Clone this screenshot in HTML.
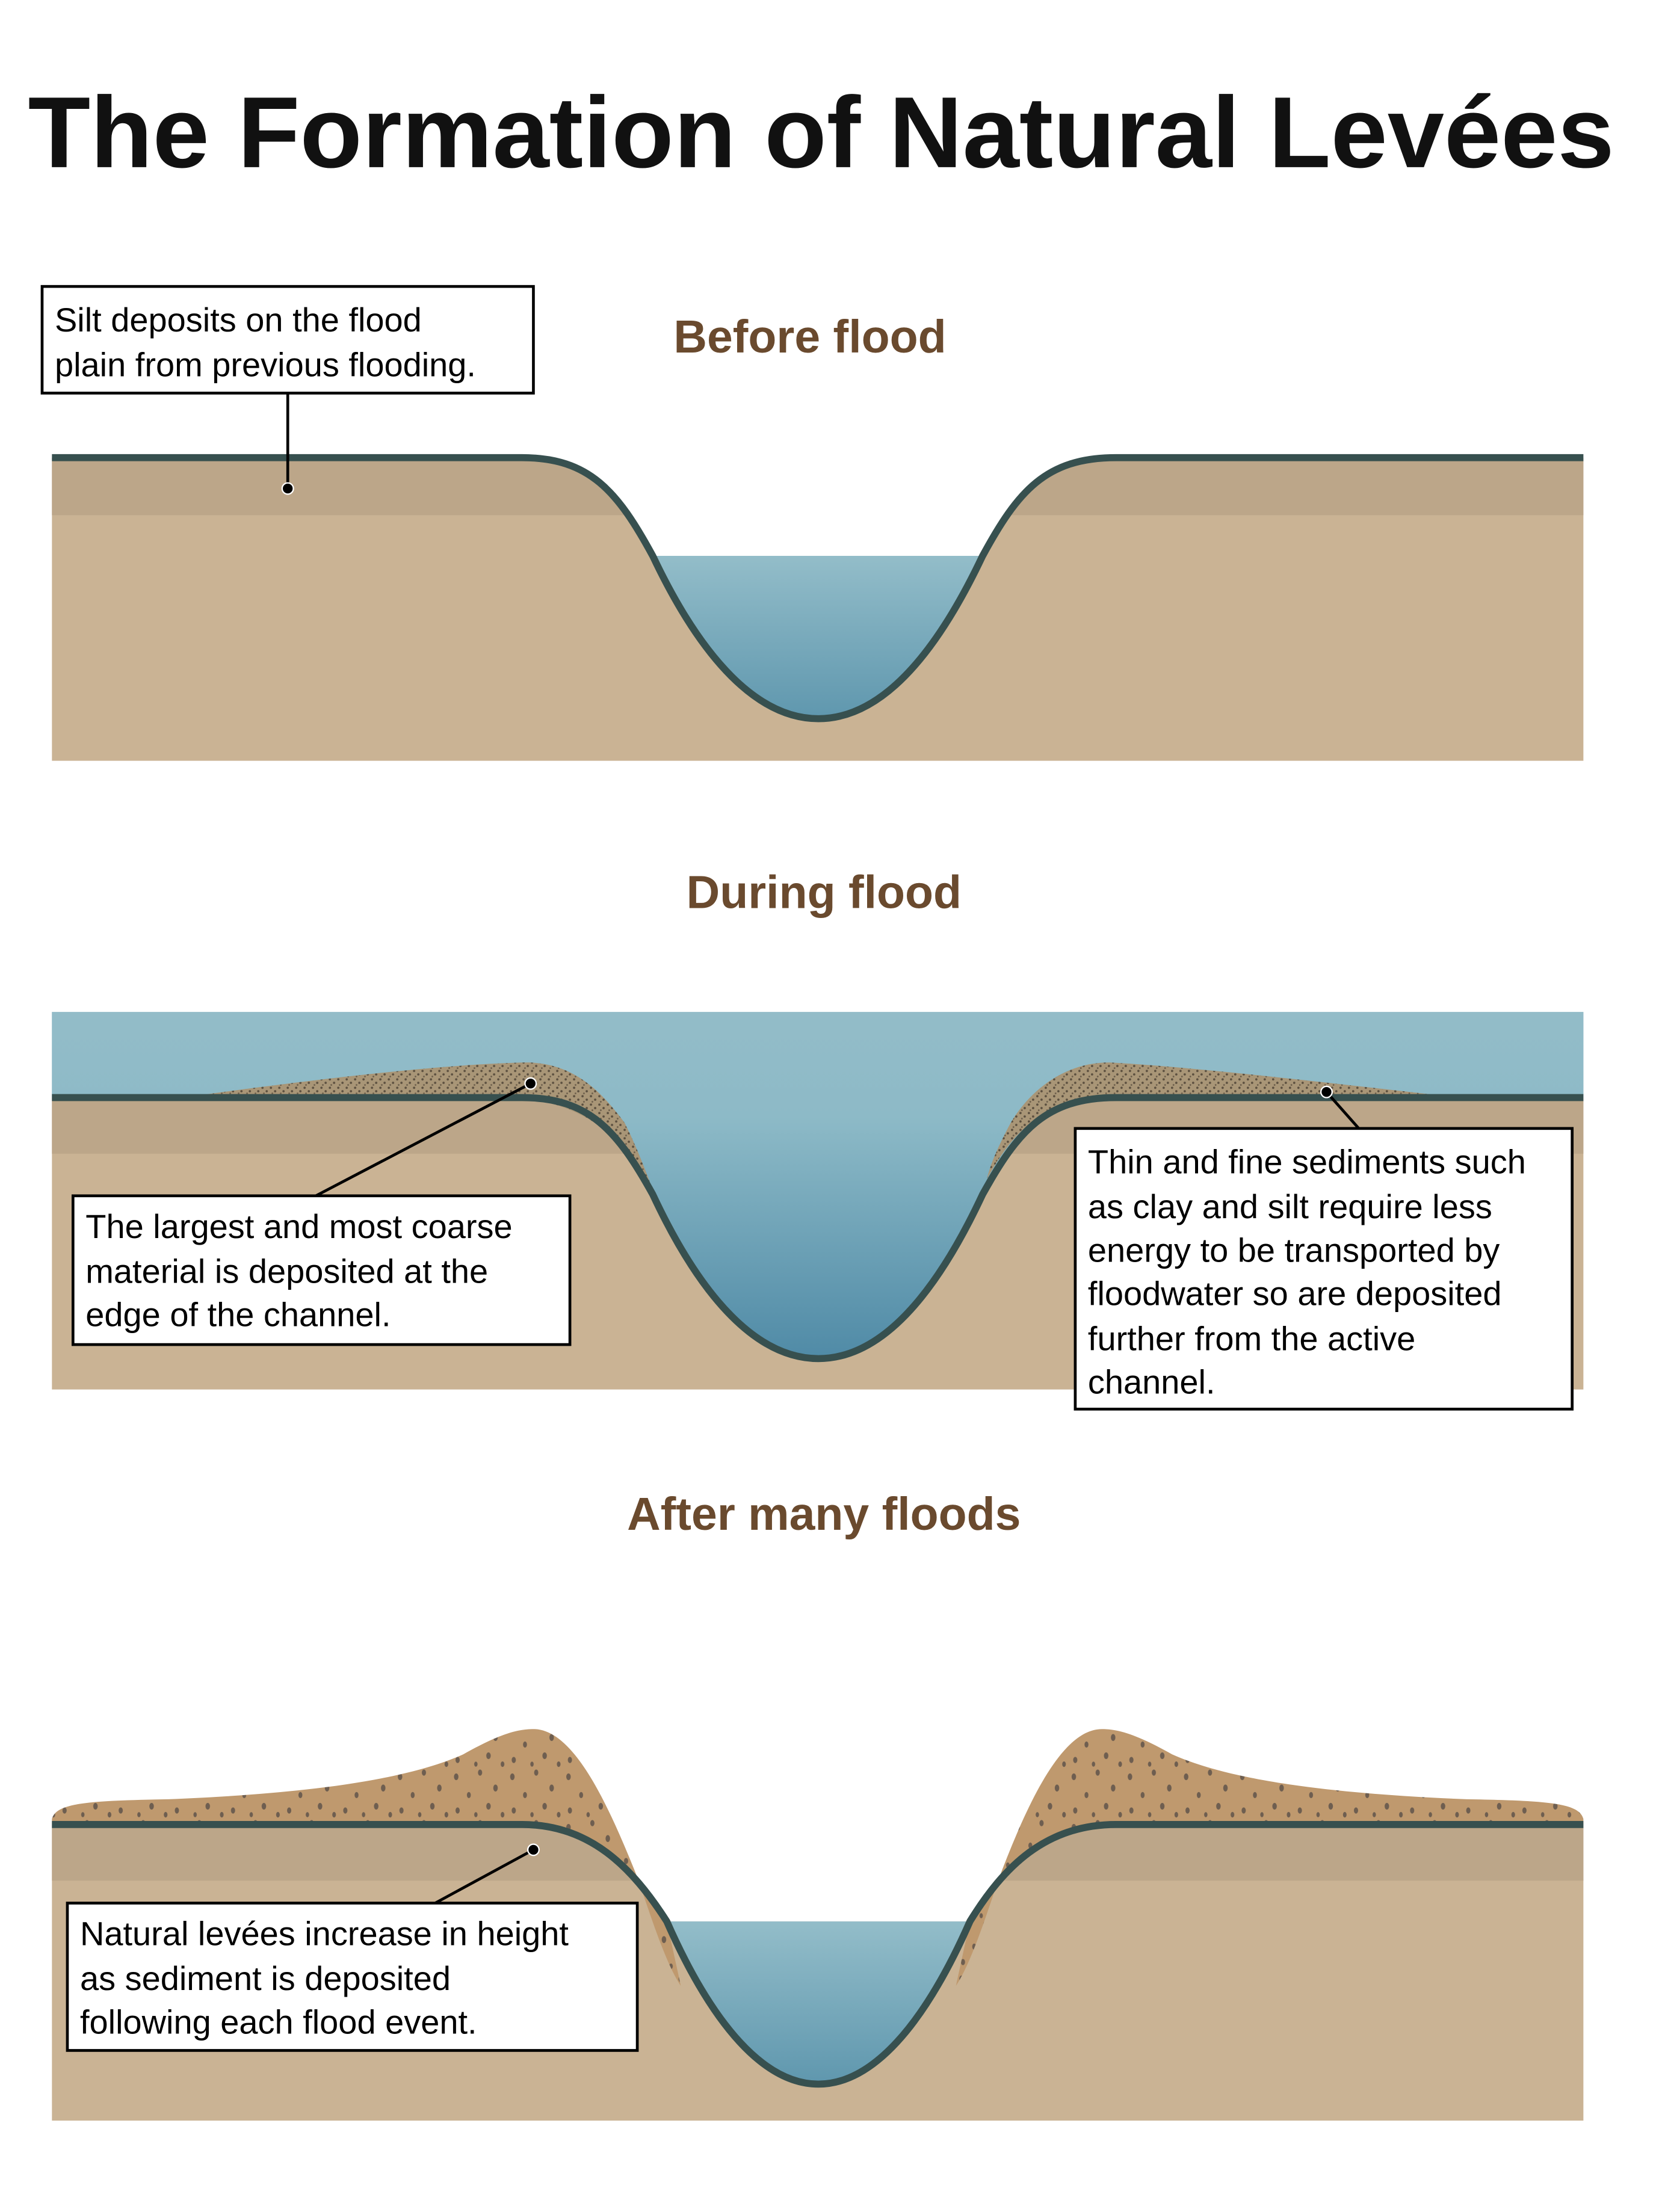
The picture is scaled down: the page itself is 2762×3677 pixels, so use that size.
<!DOCTYPE html>
<html><head><meta charset="utf-8"><style>html,body{margin:0;padding:0;background:#fff}svg{display:block}</style></head>
<body>
<svg width="2762" height="3677" viewBox="0 0 1184 1576" xmlns="http://www.w3.org/2000/svg" font-family="Liberation Sans, sans-serif">
<defs>
<linearGradient id="w1" x1="0" y1="0" x2="0" y2="1"><stop offset="0" stop-color="#93bdc9"/><stop offset="1" stop-color="#5f97ae"/></linearGradient>
<linearGradient id="w2" x1="0" y1="721" x2="0" y2="970" gradientUnits="userSpaceOnUse"><stop offset="0" stop-color="#93bcc8"/><stop offset="0.3" stop-color="#8dbac7"/><stop offset="1" stop-color="#4f8aa6"/></linearGradient>
<pattern id="fine" width="6" height="6" patternUnits="userSpaceOnUse"><rect width="6" height="6" fill="#a99677"/><circle cx="1" cy="1" r="0.8" fill="#5b4f3f"/><circle cx="4" cy="3.5" r="0.8" fill="#5b4f3f"/><circle cx="2" cy="5" r="0.6" fill="#6b5d4a"/></pattern>
<pattern id="coarse" width="40" height="36" patternUnits="userSpaceOnUse"><rect width="40" height="36" fill="#bf996e"/><ellipse cx="5" cy="6" rx="1.6" ry="2.4" fill="#6e5e50"/><ellipse cx="22" cy="3" rx="1.5" ry="2.2" fill="#6e5e50"/><ellipse cx="33" cy="14" rx="1.6" ry="2.5" fill="#6e5e50"/><ellipse cx="14" cy="19" rx="1.4" ry="2.2" fill="#6e5e50"/><ellipse cx="28" cy="27" rx="1.6" ry="2.4" fill="#6e5e50"/><ellipse cx="6" cy="30" rx="1.5" ry="2.2" fill="#6e5e50"/><ellipse cx="38" cy="33" rx="1.3" ry="2" fill="#6e5e50"/><ellipse cx="19" cy="33" rx="1.2" ry="1.8" fill="#6e5e50"/></pattern>
</defs>

<text x="585" y="119" font-size="72" font-weight="bold" text-anchor="middle" textLength="1130" lengthAdjust="spacingAndGlyphs" fill="#111">The Formation of Natural Levées</text>

<!-- Panel 1 -->
<text x="577" y="251" font-size="33" font-weight="bold" text-anchor="middle" fill="#6a4a2e">Before flood</text>
<rect x="37" y="326" width="1091" height="216" fill="#cab394"/>
<rect x="37" y="326" width="1091" height="41" fill="#bca689"/>
<path d="M465,396 C500,470 540,512 583,512 C626,512 665,470 700,396 Z" fill="url(#w1)"/>
<path d="M372,326 C420,326 440,350 465,396 L700,396 C725,350 745,326 795,326 L795,300 L372,300 Z" fill="#fff"/>
<path d="M37,326 L372,326 C420,326 440,350 465,396 C500,470 540,512 583,512 C626,512 665,470 700,396 C725,350 745,326 795,326 L1128,326" fill="none" stroke="#37504f" stroke-width="5"/>
<line x1="205" y1="280" x2="205" y2="348" stroke="#000" stroke-width="2"/>
<circle cx="205" cy="348" r="4" fill="#000" stroke="#fff" stroke-width="1"/>
<rect x="30" y="204" width="350" height="76" fill="#fff" stroke="#000" stroke-width="2"/>
<text font-size="24" fill="#000"><tspan x="39" y="236">Silt deposits on the flood</tspan><tspan x="39" y="268">plain from previous flooding.</tspan></text>

<!-- Panel 2 -->
<text x="587" y="647" font-size="33" font-weight="bold" text-anchor="middle" fill="#6a4a2e">During flood</text>
<rect x="37" y="782" width="1091" height="208" fill="#cab394"/>
<rect x="37" y="782" width="1091" height="40" fill="#bca689"/>
<rect x="37" y="721" width="1091" height="61" fill="url(#w2)"/>
<path d="M465,851 C500,926 540,968 583,968 C626,968 665,926 700,851 C725,806 745,782 795,782 L1128,782 L1128,721 L37,721 L37,782 L372,782 C420,782 440,806 465,851 Z" fill="url(#w2)"/>
<path d="M130,782 C230,768 320,758 375,757 C410,757 430,780 445,800 C455,820 462,840 468,855 C455,830 435,790 372,782 Z" fill="url(#fine)"/>
<path d="M1040,782 C950,772 850,760 790,757 C760,757 735,775 720,800 C712,815 706,828 703,840 C720,810 740,782 795,782 Z" fill="url(#fine)"/>
<path d="M37,782 L372,782 C420,782 440,806 465,851 C500,926 540,968 583,968 C626,968 665,926 700,851 C725,806 745,782 795,782 L1128,782" fill="none" stroke="#37504f" stroke-width="5"/>
<line x1="225" y1="852" x2="378" y2="772" stroke="#000" stroke-width="2"/>
<circle cx="378" cy="772" r="4" fill="#000" stroke="#fff" stroke-width="1"/>
<line x1="968" y1="804" x2="945" y2="778" stroke="#000" stroke-width="2"/>
<circle cx="945" cy="778" r="4" fill="#000" stroke="#fff" stroke-width="1"/>
<rect x="52" y="852" width="354" height="106" fill="#fff" stroke="#000" stroke-width="2"/>
<text font-size="24" fill="#000"><tspan x="61" y="882">The largest and most coarse</tspan><tspan x="61" y="914">material is deposited at the</tspan><tspan x="61" y="945">edge of the channel.</tspan></text>
<rect x="766" y="804" width="354" height="200" fill="#fff" stroke="#000" stroke-width="2"/>
<text font-size="24" fill="#000"><tspan x="775" y="836">Thin and fine sediments such</tspan><tspan x="775" y="868">as clay and silt require less</tspan><tspan x="775" y="899">energy to be transported by</tspan><tspan x="775" y="930">floodwater so are deposited</tspan><tspan x="775" y="962">further from the active</tspan><tspan x="775" y="993">channel.</tspan></text>

<!-- Panel 3 -->
<text x="587" y="1090" font-size="33" font-weight="bold" text-anchor="middle" fill="#6a4a2e">After many floods</text>
<rect x="37" y="1300" width="1091" height="211" fill="#cab394"/>
<rect x="37" y="1300" width="1091" height="40" fill="#bca689"/>
<path d="M475,1369 C508,1444 545,1485 583,1485 C621,1485 658,1444 691,1369 Z" fill="url(#w1)"/>
<path d="M372,1300 C420,1300 450,1330 475,1369 L691,1369 C715,1330 745,1300 795,1300 L795,1280 L372,1280 Z" fill="#fff"/>
<path d="M37,1300 L37,1296 C40,1285 60,1283 120,1282 C220,1278 290,1268 330,1250 C355,1236 368,1232 380,1232 C410,1232 435,1290 455,1340 C465,1370 475,1400 485,1415 L475,1369 C450,1330 420,1300 372,1300 Z" fill="url(#coarse)"/>
<path d="M1128,1300 L1128,1296 C1125,1285 1105,1283 1045,1282 C945,1278 875,1268 835,1250 C810,1236 797,1232 785,1232 C755,1232 730,1290 711,1340 C701,1370 691,1400 681,1415 L691,1369 C715,1330 745,1300 795,1300 Z" fill="url(#coarse)"/>
<path d="M37,1300 L372,1300 C420,1300 450,1330 475,1369 C508,1444 545,1485 583,1485 C621,1485 658,1444 691,1369 C715,1330 745,1300 795,1300 L1128,1300" fill="none" stroke="#37504f" stroke-width="5"/>
<line x1="310" y1="1356" x2="380" y2="1318" stroke="#000" stroke-width="2"/>
<circle cx="380" cy="1318" r="4" fill="#000" stroke="#fff" stroke-width="1"/>
<rect x="48" y="1356" width="406" height="105" fill="#fff" stroke="#000" stroke-width="2"/>
<text font-size="24" fill="#000"><tspan x="57" y="1386">Natural levées increase in height</tspan><tspan x="57" y="1418">as sediment is deposited</tspan><tspan x="57" y="1449">following each flood event.</tspan></text>
</svg>
</body></html>
